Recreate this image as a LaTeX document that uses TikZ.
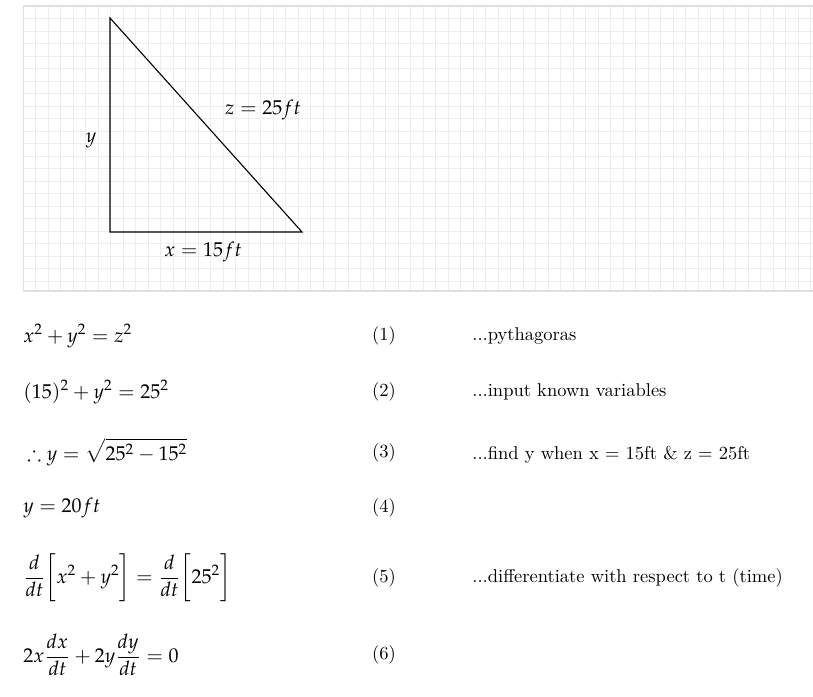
\documentclass[tikz,border=0pt]{standalone}
\usepackage{amsmath, amssymb}
\usepackage{mathpazo}
\renewcommand{\rmdefault}{lmr}
\usepackage{tikz}

\tikzset{
  gridline/.style={draw=black!7, line width=0.5pt},
  gridframe/.style={draw=black!12, line width=0.8pt},
  mathfont/.style={font=\fontsize{10.8}{13}\selectfont},
  eqn/.style={mathfont, anchor=west, inner sep=0pt},
  eqnum/.style={anchor=center, inner sep=0pt},
  remark/.style={anchor=west, inner sep=0pt}
}

\begin{document}
\begin{tikzpicture}[x=0.54pt, y=-0.54pt]
		\useasboundingbox (0,0) rectangle (813,696);

		% Draw grid
		\foreach \i in {0,...,63}
			\draw[gridline] ({23.3+12.5*\i},6) -- ({23.3+12.5*\i},291);
		\foreach \j in {0,...,22}
			\draw[gridline] (23.3,{6+12.5*\j}) -- (813,{6+12.5*\j});
		\draw[gridframe] (23.3,291) -- (23.3,6) -- (813,6);
		\draw[gridframe] (23.3,291) -- (813,291);

		% Draw triangle
		\coordinate (top) at (110,18);
		\coordinate (corner) at (110,232);
		\coordinate (right) at (302,232);
		\draw[line width=0.6pt] (top) -- (corner) -- (right) -- cycle;

		% Label sides
		\node[mathfont] (ylab) at (91,140) {$y$};
		\node[mathfont] (zlab) at (263,110) {$z = 25ft$};
		\node[mathfont] (xlab) at (203,252) {$x = 15ft$};

		% Equations
		\node[eqn] (eq1) at (23,336) {$x^2 + y^2 = z^2$};
		\node[eqn] (eq2) at (23,392) {$(15)^2 + y^2 = 25^2$};
		\node[eqn] (eq3) at (27,452) {$\therefore y = \sqrt{\rule{0pt}{10pt}25^2 - 15^2}$};
		\node[eqn] (eq4) at (23,508) {$y = 20ft$};
		\node[eqn] (eq5) at (23,578) {$\dfrac{d}{dt}\biggl[x^2 + y^2\biggr] = \dfrac{d}{dt}\biggl[25^2\biggr]$};
		\node[eqn] (eq6) at (23,655) {$2x\dfrac{dx}{dt} + 2y\dfrac{dy}{dt} = 0$};

		% Equation numbers
		\foreach \k/\ypos in {1/336, 2/392, 3/453, 4/508, 5/578, 6/655}
			\node[eqnum] (num\k) at (384,\ypos) {(\k)};

		% Remarks
		\node[remark] (rem1) at (472,336) {...pythagoras};
		\node[remark] (rem2) at (472,392) {...input known variables};
		\node[remark] (rem3) at (472,455) {...find y when x = 15ft \& z = 25ft};
		\node[remark] (rem5) at (472,578) {...differentiate with respect to t (time)};
	\end{tikzpicture}
\end{document}
